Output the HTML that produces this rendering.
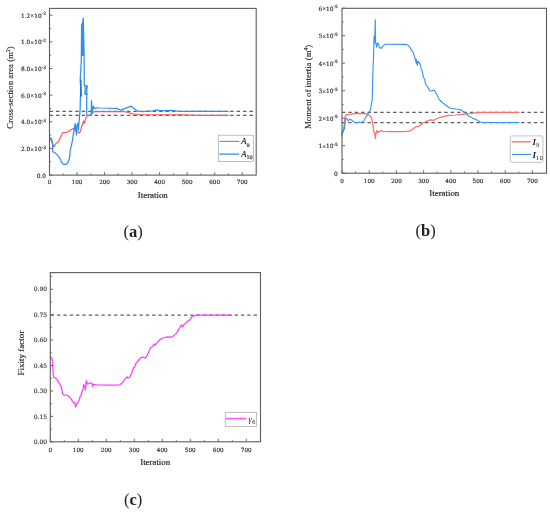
<!DOCTYPE html><html><head><meta charset="utf-8"><style>html,body{margin:0;padding:0;background:#fff;}svg{display:block;} .t{stroke:#222;stroke-width:0.18px;} .k{stroke:#333;stroke-width:0.15px;} .r{stroke:#222;stroke-width:0.12px;}</style></head><body>
<svg width="550" height="512" viewBox="0 0 550 512" font-family="'Liberation Serif', 'Times New Roman', serif" fill="#222">
<line x1="49.5" y1="111.35" x2="253.2" y2="111.35" stroke="#5e5e5e" stroke-width="1.25" stroke-dasharray="3.45 3.00"/>
<line x1="49.5" y1="115.4" x2="253.2" y2="115.4" stroke="#5e5e5e" stroke-width="1.25" stroke-dasharray="3.45 3.00"/>
<polyline points="49.5,138.0 51.9,141.7 53.9,147.0 55.4,144.1 58.3,141.7 60.1,138.2 61.5,134.7 62.7,132.6 66.0,132.5 68.3,131.5 70.7,129.9 73.4,128.4 74.6,129.5 76.2,130.7 78.1,132.3 79.3,133.0 80.5,131.1 81.6,126.4 82.8,124.1 83.6,120.9 84.5,123.4 85.6,118.8 86.8,116.0 90.3,115.2 92.3,112.5 95.0,111.7 100.0,111.6 124.0,111.7 128.5,112.5 130.0,113.2 133.6,114.1 139.1,114.5 180.0,114.9 200.0,115.4 228.3,115.4" fill="none" stroke="#f85a5a" stroke-width="1.2" stroke-linejoin="round" stroke-linecap="round"/>
<polyline points="49.5,137.3 51.6,138.8 52.5,143.5 52.7,148.2 52.7,151.7 54.8,152.6 56.9,154.6 58.6,156.4 60.7,160.0 61.8,162.8 63.6,164.4 66.0,164.4 68.0,162.5 69.5,158.0 70.3,150.0 71.5,145.2 72.6,139.7 73.4,133.4 74.2,130.3 75.0,123.7 75.8,129.5 76.4,135.0 76.9,125.6 77.7,123.3 78.5,130.3 78.9,123.3 79.3,119.4 79.7,113.9 80.1,110.0 80.4,96.0 81.5,96.0 80.2,80.0 81.3,60.0 81.6,24.0 82.5,24.0 83.3,18.0 84.1,56.0 84.3,85.4 87.5,86.0 85.0,94.0 87.5,94.0 86.7,94.5 86.7,114.0 87.2,115.3 91.1,115.3 91.5,100.5 92.3,113.5 93.4,106.2 94.2,108.6 96.6,107.8 100.0,108.0 116.8,108.4 120.5,110.3 124.1,108.8 127.7,107.4 131.4,106.2 133.5,108.1 136.5,110.6 139.1,111.4 143.6,111.6 148.2,111.2 153.6,110.8 156.4,109.9 159.1,110.6 162.7,110.6 170.9,110.3 177.3,111.1 185.0,111.3 228.3,111.3" fill="none" stroke="#3090ec" stroke-width="1.25" stroke-linejoin="round" stroke-linecap="round"/>
<polygon points="81.5,56 81.6,24 82.6,23.8 83.2,18 83.7,18 84.2,56" fill="#3090ec"/>
<rect x="84.3" y="85.6" width="3.2" height="8.6" fill="#3090ec" opacity="0.75"/>
<rect x="80" y="79.5" width="1.6" height="16.5" fill="#1a78e0"/>
<rect x="49.5" y="8.4" width="206.7" height="166.7" fill="none" stroke="#5c5c5c" stroke-width="1.1"/>
<path d="M49.50,175.1v-3.0 M63.27,175.1v-1.6 M77.03,175.1v-3.0 M90.80,175.1v-1.6 M104.56,175.1v-3.0 M118.33,175.1v-1.6 M132.09,175.1v-3.0 M145.86,175.1v-1.6 M159.62,175.1v-3.0 M173.38,175.1v-1.6 M187.15,175.1v-3.0 M200.92,175.1v-1.6 M214.68,175.1v-3.0 M228.44,175.1v-1.6 M242.21,175.1v-3.0" stroke="#5c5c5c" stroke-width="0.9" fill="none"/>
<path d="M49.5,175.10h3.0 M49.5,161.78h1.6 M49.5,148.45h3.0 M49.5,135.12h1.6 M49.5,121.80h3.0 M49.5,108.47h1.6 M49.5,95.15h3.0 M49.5,81.83h1.6 M49.5,68.50h3.0 M49.5,55.17h1.6 M49.5,41.85h3.0 M49.5,28.52h1.6 M49.5,15.20h3.0" stroke="#5c5c5c" stroke-width="0.9" fill="none"/>
<text x="49.50" y="184.20" font-family="'DejaVu Serif', serif" font-size="5.7" text-anchor="middle" class="k">0</text>
<text x="77.03" y="184.20" font-family="'DejaVu Serif', serif" font-size="5.7" text-anchor="middle" class="k">100</text>
<text x="104.56" y="184.20" font-family="'DejaVu Serif', serif" font-size="5.7" text-anchor="middle" class="k">200</text>
<text x="132.09" y="184.20" font-family="'DejaVu Serif', serif" font-size="5.7" text-anchor="middle" class="k">300</text>
<text x="159.62" y="184.20" font-family="'DejaVu Serif', serif" font-size="5.7" text-anchor="middle" class="k">400</text>
<text x="187.15" y="184.20" font-family="'DejaVu Serif', serif" font-size="5.7" text-anchor="middle" class="k">500</text>
<text x="214.68" y="184.20" font-family="'DejaVu Serif', serif" font-size="5.7" text-anchor="middle" class="k">600</text>
<text x="242.21" y="184.20" font-family="'DejaVu Serif', serif" font-size="5.7" text-anchor="middle" class="k">700</text>
<text x="46.00" y="177.70" font-family="'DejaVu Serif', serif" font-size="5.9" text-anchor="end" class="k">0.0</text>
<text x="46.00" y="151.05" font-family="'DejaVu Serif', serif" font-size="5.9" text-anchor="end" class="k">2.0<tspan font-size="4.6" dy="-0.4">×</tspan><tspan dy="0.4">10</tspan><tspan dy="-2.5" font-size="4.4">-3</tspan></text>
<text x="46.00" y="124.40" font-family="'DejaVu Serif', serif" font-size="5.9" text-anchor="end" class="k">4.0<tspan font-size="4.6" dy="-0.4">×</tspan><tspan dy="0.4">10</tspan><tspan dy="-2.5" font-size="4.4">-3</tspan></text>
<text x="46.00" y="97.75" font-family="'DejaVu Serif', serif" font-size="5.9" text-anchor="end" class="k">6.0<tspan font-size="4.6" dy="-0.4">×</tspan><tspan dy="0.4">10</tspan><tspan dy="-2.5" font-size="4.4">-3</tspan></text>
<text x="46.00" y="71.10" font-family="'DejaVu Serif', serif" font-size="5.9" text-anchor="end" class="k">8.0<tspan font-size="4.6" dy="-0.4">×</tspan><tspan dy="0.4">10</tspan><tspan dy="-2.5" font-size="4.4">-3</tspan></text>
<text x="46.00" y="44.45" font-family="'DejaVu Serif', serif" font-size="5.9" text-anchor="end" class="k">1.0<tspan font-size="4.6" dy="-0.4">×</tspan><tspan dy="0.4">10</tspan><tspan dy="-2.5" font-size="4.4">-2</tspan></text>
<text x="46.00" y="17.80" font-family="'DejaVu Serif', serif" font-size="5.9" text-anchor="end" class="k">1.2<tspan font-size="4.6" dy="-0.4">×</tspan><tspan dy="0.4">10</tspan><tspan dy="-2.5" font-size="4.4">-2</tspan></text>
<text transform="translate(12.5,87.6) rotate(-90)" font-size="8.8" text-anchor="middle" class="r">Cross-section area (m<tspan dy="-3" font-size="5.5">2</tspan><tspan dy="3">)</tspan></text>
<text x="152.8" y="198.2" font-size="8.85" text-anchor="middle" class="t">Iteration</text>
<rect x="218.5" y="135.2" width="35" height="26.3" fill="#fff" stroke="#b0b0b0" stroke-width="0.8"/>
<line x1="219.5" y1="141.4" x2="239.3" y2="141.4" stroke="#f85a5a" stroke-width="1.1"/>
<line x1="219.5" y1="154.1" x2="239.3" y2="154.1" stroke="#3090ec" stroke-width="1.3"/>
<text x="241.3" y="144.3" font-size="8.6" font-style="italic" class="t">A<tspan dy="2.3" dx="-0.1" font-size="5.0" font-family="DejaVu Serif, serif" font-style="normal" font-weight="normal">9</tspan></text>
<text x="241.3" y="157.0" font-size="8.6" font-style="italic" class="t">A<tspan dy="2.3" dx="-0.1" font-size="5.0" font-family="DejaVu Serif, serif" font-style="normal" font-weight="normal">10</tspan></text>
<text x="133" y="236.5" font-size="16.5" text-anchor="middle">(<tspan font-weight="bold">a</tspan>)</text>
<line x1="341.9" y1="112.3" x2="543.6" y2="112.3" stroke="#5e5e5e" stroke-width="1.25" stroke-dasharray="3.4 3.00"/>
<line x1="341.9" y1="122.5" x2="543.6" y2="122.5" stroke="#5e5e5e" stroke-width="1.25" stroke-dasharray="3.4 3.00"/>
<polyline points="342.0,133.2 343.4,130.3 344.4,123.4 345.4,115.6 346.3,114.2 347.8,115.1 349.8,114.5 354.6,113.7 359.5,113.4 364.4,113.7 368.3,114.6 370.3,116.1 371.7,118.6 372.7,123.4 373.7,131.2 374.7,133.7 375.4,138.6 375.9,133.2 376.9,130.3 377.6,132.7 379.0,131.5 381.0,130.6 383.0,131.3 390.9,131.7 401.8,131.7 408.9,131.4 411.6,129.9 414.9,127.4 416.5,126.3 417.6,126.8 419.3,125.7 422.5,123.5 425.3,121.9 428.0,120.5 430.2,119.9 433.8,120.3 436.4,118.8 440.2,117.3 444.0,116.3 449.1,115.4 455.5,115.0 461.8,114.4 466.9,113.8 470.7,113.5 475.8,112.9 480.9,112.3 519.0,112.3" fill="none" stroke="#fb6c6c" stroke-width="1.2" stroke-linejoin="round" stroke-linecap="round"/>
<polyline points="342.0,135.2 342.9,131.7 344.4,129.3 345.4,119.5 346.3,118.1 347.8,120.0 348.3,121.0 349.8,119.0 350.7,119.5 352.7,121.0 355.6,122.7 359.5,122.0 362.5,122.3 364.4,119.5 366.9,115.6 368.3,113.2 369.8,111.2 370.8,108.8 371.2,104.9 372.2,100.0 372.8,74.5 373.8,49.0 374.0,36.4 374.6,43.0 375.3,19.8 375.4,42.2 375.8,42.2 376.6,47.1 377.6,43.2 378.5,43.2 379.2,47.6 381.7,48.1 383.6,45.2 385.6,44.2 393.0,44.3 405.9,44.4 408.2,45.3 410.0,47.3 411.7,50.8 412.9,51.4 414.1,55.5 415.2,59.0 416.2,63.1 416.6,59.6 417.3,65.5 418.2,61.4 419.9,63.7 421.1,68.4 422.3,71.3 423.4,77.2 424.6,79.5 425.6,84.2 427.5,86.6 429.9,90.7 431.7,91.0 434.0,90.1 436.4,93.4 438.9,99.1 440.8,101.0 442.7,102.9 445.3,104.8 447.8,106.7 450.4,108.3 455.5,109.0 459.9,109.5 463.1,111.2 466.3,113.7 468.8,116.3 470.7,116.9 473.3,118.6 477.1,120.1 480.3,122.0 482.2,122.5 519.0,122.5" fill="none" stroke="#3090ec" stroke-width="1.1" stroke-linejoin="round" stroke-linecap="round"/>
<rect x="342.0" y="8.3" width="204.5" height="164.89999999999998" fill="none" stroke="#5c5c5c" stroke-width="1.1"/>
<path d="M342.00,173.2v-3.0 M355.60,173.2v-1.6 M369.20,173.2v-3.0 M382.80,173.2v-1.6 M396.40,173.2v-3.0 M410.00,173.2v-1.6 M423.60,173.2v-3.0 M437.20,173.2v-1.6 M450.80,173.2v-3.0 M464.40,173.2v-1.6 M478.00,173.2v-3.0 M491.60,173.2v-1.6 M505.20,173.2v-3.0 M518.80,173.2v-1.6 M532.40,173.2v-3.0" stroke="#5c5c5c" stroke-width="0.9" fill="none"/>
<path d="M342.0,173.20h3.0 M342.0,159.45h1.6 M342.0,145.70h3.0 M342.0,131.95h1.6 M342.0,118.20h3.0 M342.0,104.45h1.6 M342.0,90.70h3.0 M342.0,76.95h1.6 M342.0,63.20h3.0 M342.0,49.45h1.6 M342.0,35.70h3.0 M342.0,21.95h1.6 M342.0,8.20h3.0" stroke="#5c5c5c" stroke-width="0.9" fill="none"/>
<text x="342.00" y="183.10" font-family="'DejaVu Serif', serif" font-size="5.7" text-anchor="middle" class="k">0</text>
<text x="369.20" y="183.10" font-family="'DejaVu Serif', serif" font-size="5.7" text-anchor="middle" class="k">100</text>
<text x="396.40" y="183.10" font-family="'DejaVu Serif', serif" font-size="5.7" text-anchor="middle" class="k">200</text>
<text x="423.60" y="183.10" font-family="'DejaVu Serif', serif" font-size="5.7" text-anchor="middle" class="k">300</text>
<text x="450.80" y="183.10" font-family="'DejaVu Serif', serif" font-size="5.7" text-anchor="middle" class="k">400</text>
<text x="478.00" y="183.10" font-family="'DejaVu Serif', serif" font-size="5.7" text-anchor="middle" class="k">500</text>
<text x="505.20" y="183.10" font-family="'DejaVu Serif', serif" font-size="5.7" text-anchor="middle" class="k">600</text>
<text x="532.40" y="183.10" font-family="'DejaVu Serif', serif" font-size="5.7" text-anchor="middle" class="k">700</text>
<text x="337.80" y="175.80" font-family="'DejaVu Serif', serif" font-size="5.9" text-anchor="end" class="k">0</text>
<text x="337.80" y="148.30" font-family="'DejaVu Serif', serif" font-size="5.9" text-anchor="end" class="k">1<tspan font-size="4.6" dy="-0.4">×</tspan><tspan dy="0.4">10</tspan><tspan dy="-2.5" font-size="4.4">-5</tspan></text>
<text x="337.80" y="120.80" font-family="'DejaVu Serif', serif" font-size="5.9" text-anchor="end" class="k">2<tspan font-size="4.6" dy="-0.4">×</tspan><tspan dy="0.4">10</tspan><tspan dy="-2.5" font-size="4.4">-5</tspan></text>
<text x="337.80" y="93.30" font-family="'DejaVu Serif', serif" font-size="5.9" text-anchor="end" class="k">3<tspan font-size="4.6" dy="-0.4">×</tspan><tspan dy="0.4">10</tspan><tspan dy="-2.5" font-size="4.4">-5</tspan></text>
<text x="337.80" y="65.80" font-family="'DejaVu Serif', serif" font-size="5.9" text-anchor="end" class="k">4<tspan font-size="4.6" dy="-0.4">×</tspan><tspan dy="0.4">10</tspan><tspan dy="-2.5" font-size="4.4">-5</tspan></text>
<text x="337.80" y="38.30" font-family="'DejaVu Serif', serif" font-size="5.9" text-anchor="end" class="k">5<tspan font-size="4.6" dy="-0.4">×</tspan><tspan dy="0.4">10</tspan><tspan dy="-2.5" font-size="4.4">-5</tspan></text>
<text x="337.80" y="10.80" font-family="'DejaVu Serif', serif" font-size="5.9" text-anchor="end" class="k">6<tspan font-size="4.6" dy="-0.4">×</tspan><tspan dy="0.4">10</tspan><tspan dy="-2.5" font-size="4.4">-5</tspan></text>
<text transform="translate(310.5,86.9) rotate(-90)" font-size="8.8" text-anchor="middle" class="r">Moment of intertia (m<tspan dy="-3" font-size="5.5">4</tspan><tspan dy="3">)</tspan></text>
<text x="444.3" y="196.2" font-size="8.85" text-anchor="middle" class="t">Iteration</text>
<rect x="510.3" y="135.9" width="32.6" height="26.4" rx="1.5" fill="#fff" stroke="#b0b0b0" stroke-width="0.8"/>
<line x1="511.8" y1="141.8" x2="530.9" y2="141.8" stroke="#fb6c6c" stroke-width="1.3"/>
<line x1="511.8" y1="154.4" x2="530.9" y2="154.4" stroke="#3090ec" stroke-width="1.1"/>
<text x="532.4" y="145.2" font-size="9" font-style="italic" font-weight="bold">I<tspan dy="2.1" dx="0.1" font-size="5.5" font-family="DejaVu Serif, serif" font-style="normal" font-weight="normal">9</tspan></text>
<text x="532.4" y="157.5" font-size="9" font-style="italic" font-weight="bold">I<tspan dy="2.1" dx="0.1" font-size="5.5" font-family="DejaVu Serif, serif" font-style="normal" font-weight="normal">10</tspan></text>
<text x="425.6" y="236" font-size="16.5" text-anchor="middle">(<tspan font-weight="bold">b</tspan>)</text>
<line x1="50.7" y1="315.0" x2="257.4" y2="315.0" stroke="#5e5e5e" stroke-width="1.25" stroke-dasharray="3.35 2.99"/>
<polyline points="50.3,357.0 51.5,357.6 52.5,360.5 52.7,365.8 53.3,375.2 53.9,377.7 55.6,378.1 56.8,379.3 58.6,382.2 60.3,385.0 61.2,387.0 62.0,390.5 62.6,393.5 63.5,394.9 65.9,395.1 67.6,395.5 69.4,397.0 70.3,397.3 70.8,398.7 71.7,399.9 72.6,401.7 74.1,403.4 74.9,402.3 75.5,406.9 76.4,404.6 77.6,402.8 78.7,401.1 80.2,396.4 81.1,395.2 82.3,390.5 83.1,389.4 83.7,384.7 84.6,385.9 85.5,390.0 86.1,381.8 86.4,380.6 87.5,384.1 88.7,383.5 90.2,382.8 92.0,383.6 92.5,386.3 93.1,384.3 94.9,384.5 97.2,384.8 110.0,385.1 119.5,384.9 121.8,383.2 123.7,380.9 125.7,378.1 127.1,376.8 127.8,378.1 129.2,377.5 130.5,375.4 131.9,372.7 133.3,367.9 134.6,367.2 136.0,363.1 137.4,361.7 138.7,359.7 140.8,357.6 142.8,357.2 144.9,358.0 146.3,356.7 147.6,354.2 149.0,351.5 150.4,348.0 151.7,347.1 153.1,345.3 154.5,343.9 155.1,345.3 157.2,342.6 159.2,340.5 161.3,338.5 164.7,337.5 167.5,336.9 171.4,337.2 173.9,335.6 176.5,333.1 178.4,329.9 180.3,326.7 181.5,324.8 182.8,326.7 184.1,324.2 186.0,322.9 187.9,321.0 189.2,320.4 190.5,319.1 191.7,317.2 193.0,315.5 194.3,315.9 196.2,315.0 199.4,315.0 231.9,315.0" fill="none" stroke="#ff3cff" stroke-width="1.25" stroke-linejoin="round" stroke-linecap="round"/>
<rect x="50.3" y="272.6" width="210.2" height="169.2" fill="none" stroke="#5c5c5c" stroke-width="1.1"/>
<path d="M50.30,441.8v-3.0 M64.30,441.8v-1.6 M78.30,441.8v-3.0 M92.30,441.8v-1.6 M106.30,441.8v-3.0 M120.30,441.8v-1.6 M134.30,441.8v-3.0 M148.30,441.8v-1.6 M162.30,441.8v-3.0 M176.30,441.8v-1.6 M190.30,441.8v-3.0 M204.30,441.8v-1.6 M218.30,441.8v-3.0 M232.30,441.8v-1.6 M246.30,441.8v-3.0" stroke="#5c5c5c" stroke-width="0.9" fill="none"/>
<path d="M50.3,441.80h3.0 M50.3,429.09h1.6 M50.3,416.37h3.0 M50.3,403.66h1.6 M50.3,390.94h3.0 M50.3,378.23h1.6 M50.3,365.51h3.0 M50.3,352.80h1.6 M50.3,340.08h3.0 M50.3,327.37h1.6 M50.3,314.65h3.0 M50.3,301.94h1.6 M50.3,289.22h3.0 M50.3,276.51h1.6" stroke="#5c5c5c" stroke-width="0.9" fill="none"/>
<text x="50.30" y="451.60" font-family="'DejaVu Serif', serif" font-size="5.7" text-anchor="middle" class="k">0</text>
<text x="78.30" y="451.60" font-family="'DejaVu Serif', serif" font-size="5.7" text-anchor="middle" class="k">100</text>
<text x="106.30" y="451.60" font-family="'DejaVu Serif', serif" font-size="5.7" text-anchor="middle" class="k">200</text>
<text x="134.30" y="451.60" font-family="'DejaVu Serif', serif" font-size="5.7" text-anchor="middle" class="k">300</text>
<text x="162.30" y="451.60" font-family="'DejaVu Serif', serif" font-size="5.7" text-anchor="middle" class="k">400</text>
<text x="190.30" y="451.60" font-family="'DejaVu Serif', serif" font-size="5.7" text-anchor="middle" class="k">500</text>
<text x="218.30" y="451.60" font-family="'DejaVu Serif', serif" font-size="5.7" text-anchor="middle" class="k">600</text>
<text x="246.30" y="451.60" font-family="'DejaVu Serif', serif" font-size="5.7" text-anchor="middle" class="k">700</text>
<text x="47.10" y="444.00" font-family="'DejaVu Serif', serif" font-size="6.0" text-anchor="end" fill="#333" class="k">0.00</text>
<text x="47.10" y="418.57" font-family="'DejaVu Serif', serif" font-size="6.0" text-anchor="end" fill="#333" class="k">0.15</text>
<text x="47.10" y="393.14" font-family="'DejaVu Serif', serif" font-size="6.0" text-anchor="end" fill="#333" class="k">0.30</text>
<text x="47.10" y="367.71" font-family="'DejaVu Serif', serif" font-size="6.0" text-anchor="end" fill="#333" class="k">0.45</text>
<text x="47.10" y="342.28" font-family="'DejaVu Serif', serif" font-size="6.0" text-anchor="end" fill="#333" class="k">0.60</text>
<text x="47.10" y="316.85" font-family="'DejaVu Serif', serif" font-size="6.0" text-anchor="end" fill="#333" class="k">0.75</text>
<text x="47.10" y="291.42" font-family="'DejaVu Serif', serif" font-size="6.0" text-anchor="end" fill="#333" class="k">0.90</text>
<text transform="translate(24.0,353.2) rotate(-90)" font-size="9" text-anchor="middle" class="r">Fixity factor</text>
<text x="155.2" y="465" font-size="8.85" text-anchor="middle" class="t">Iteration</text>
<rect x="225.3" y="412.5" width="31.1" height="14" fill="#fff" stroke="#b0b0b0" stroke-width="0.8"/>
<line x1="225.9" y1="418.6" x2="246.4" y2="418.6" stroke="#ff55ff" stroke-width="1.6"/>
<text x="248.4" y="422" font-size="8.4" font-style="italic">γ<tspan dy="1.5" dx="0.3" font-size="5.6" font-family="DejaVu Serif, serif" font-style="normal">6</tspan></text>
<text x="133.1" y="504.5" font-size="16.5" text-anchor="middle">(<tspan font-weight="bold">c</tspan>)</text>
</svg></body></html>
